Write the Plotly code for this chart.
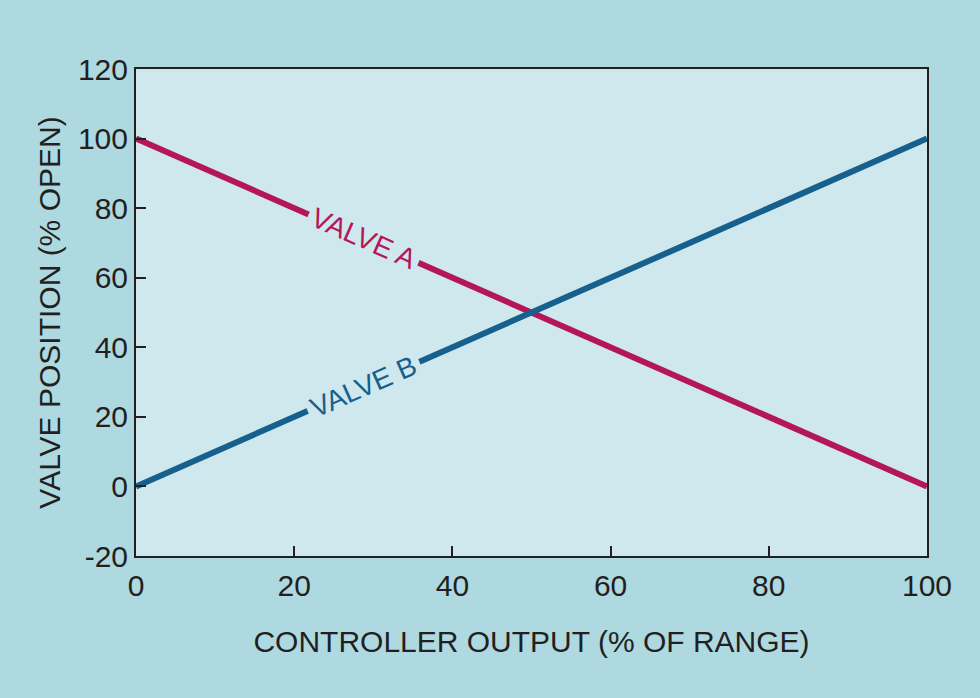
import plotly.graph_objects as go

# Data
controller_output = [0, 100]
valve_a = [100, 0]
valve_b = [0, 100]
x_ticks = [0, 20, 40, 60, 80, 100]
y_ticks = [-20, 0, 20, 40, 60, 80, 100, 120]
y_tick_text = ["-20", "0", "20", "40", "60", "80", "100", "120"]

color_a = "#b3175a"
color_b = "#175f8c"
paper_bg = "#aed9e1"
plot_bg = "#cfe8ee"
ink = "#231f20"
font_family = "Liberation Sans, Arial, Helvetica, sans-serif"

fig = go.Figure()
fig.add_trace(go.Scatter(x=controller_output, y=valve_a, mode="lines",
                         line=dict(color=color_a, width=6), name="VALVE A",
                         hoverinfo="skip"))
fig.add_trace(go.Scatter(x=controller_output, y=valve_b, mode="lines",
                         line=dict(color=color_b, width=6), name="VALVE B",
                         hoverinfo="skip"))

fig.add_annotation(x=28.8, y=71.2, xref="x", yref="y", text="VALVE A",
                   showarrow=False, textangle=23.8,
                   font=dict(family=font_family, size=28, color=color_a),
                   bgcolor=plot_bg, borderpad=4)
fig.add_annotation(x=28.8, y=28.8, xref="x", yref="y", text="VALVE B",
                   showarrow=False, textangle=-23.8,
                   font=dict(family=font_family, size=28, color=color_b),
                   bgcolor=plot_bg, borderpad=4)

axis_common = dict(showgrid=False, zeroline=False, showline=True,
                   linecolor=ink, linewidth=2, mirror=True,
                   ticks="inside", ticklen=10, tickwidth=2, tickcolor=ink,
                   tickfont=dict(family=font_family, size=30, color=ink))

fig.update_xaxes(range=[0, 100], tickvals=x_ticks, ticklabelstandoff=2,
                 title=dict(text="CONTROLLER OUTPUT (% OF RANGE)",
                            font=dict(family=font_family, size=30, color=ink),
                            standoff=30),
                 **axis_common)
fig.update_yaxes(range=[-20, 120], tickvals=y_ticks, ticktext=y_tick_text,
                 ticklabelstandoff=0,
                 title=dict(text="VALVE POSITION (% OPEN)",
                            font=dict(family=font_family, size=30, color=ink),
                            standoff=8),
                 **axis_common)

fig.update_layout(width=980, height=698,
                  margin=dict(l=136, r=53, t=69, b=142),
                  paper_bgcolor=paper_bg, plot_bgcolor=plot_bg,
                  showlegend=False,
                  font=dict(family=font_family, color=ink))

fig.write_html("out.html", config={"displayModeBar": False})

# remove default page margin so the figure fills the window exactly
with open("out.html", "r", encoding="utf-8") as f:
    html = f.read()
html = html.replace("<head>", "<head><style>html,body{margin:0;padding:0;overflow:hidden;}</style>", 1)
with open("out.html", "w", encoding="utf-8") as f:
    f.write(html)
